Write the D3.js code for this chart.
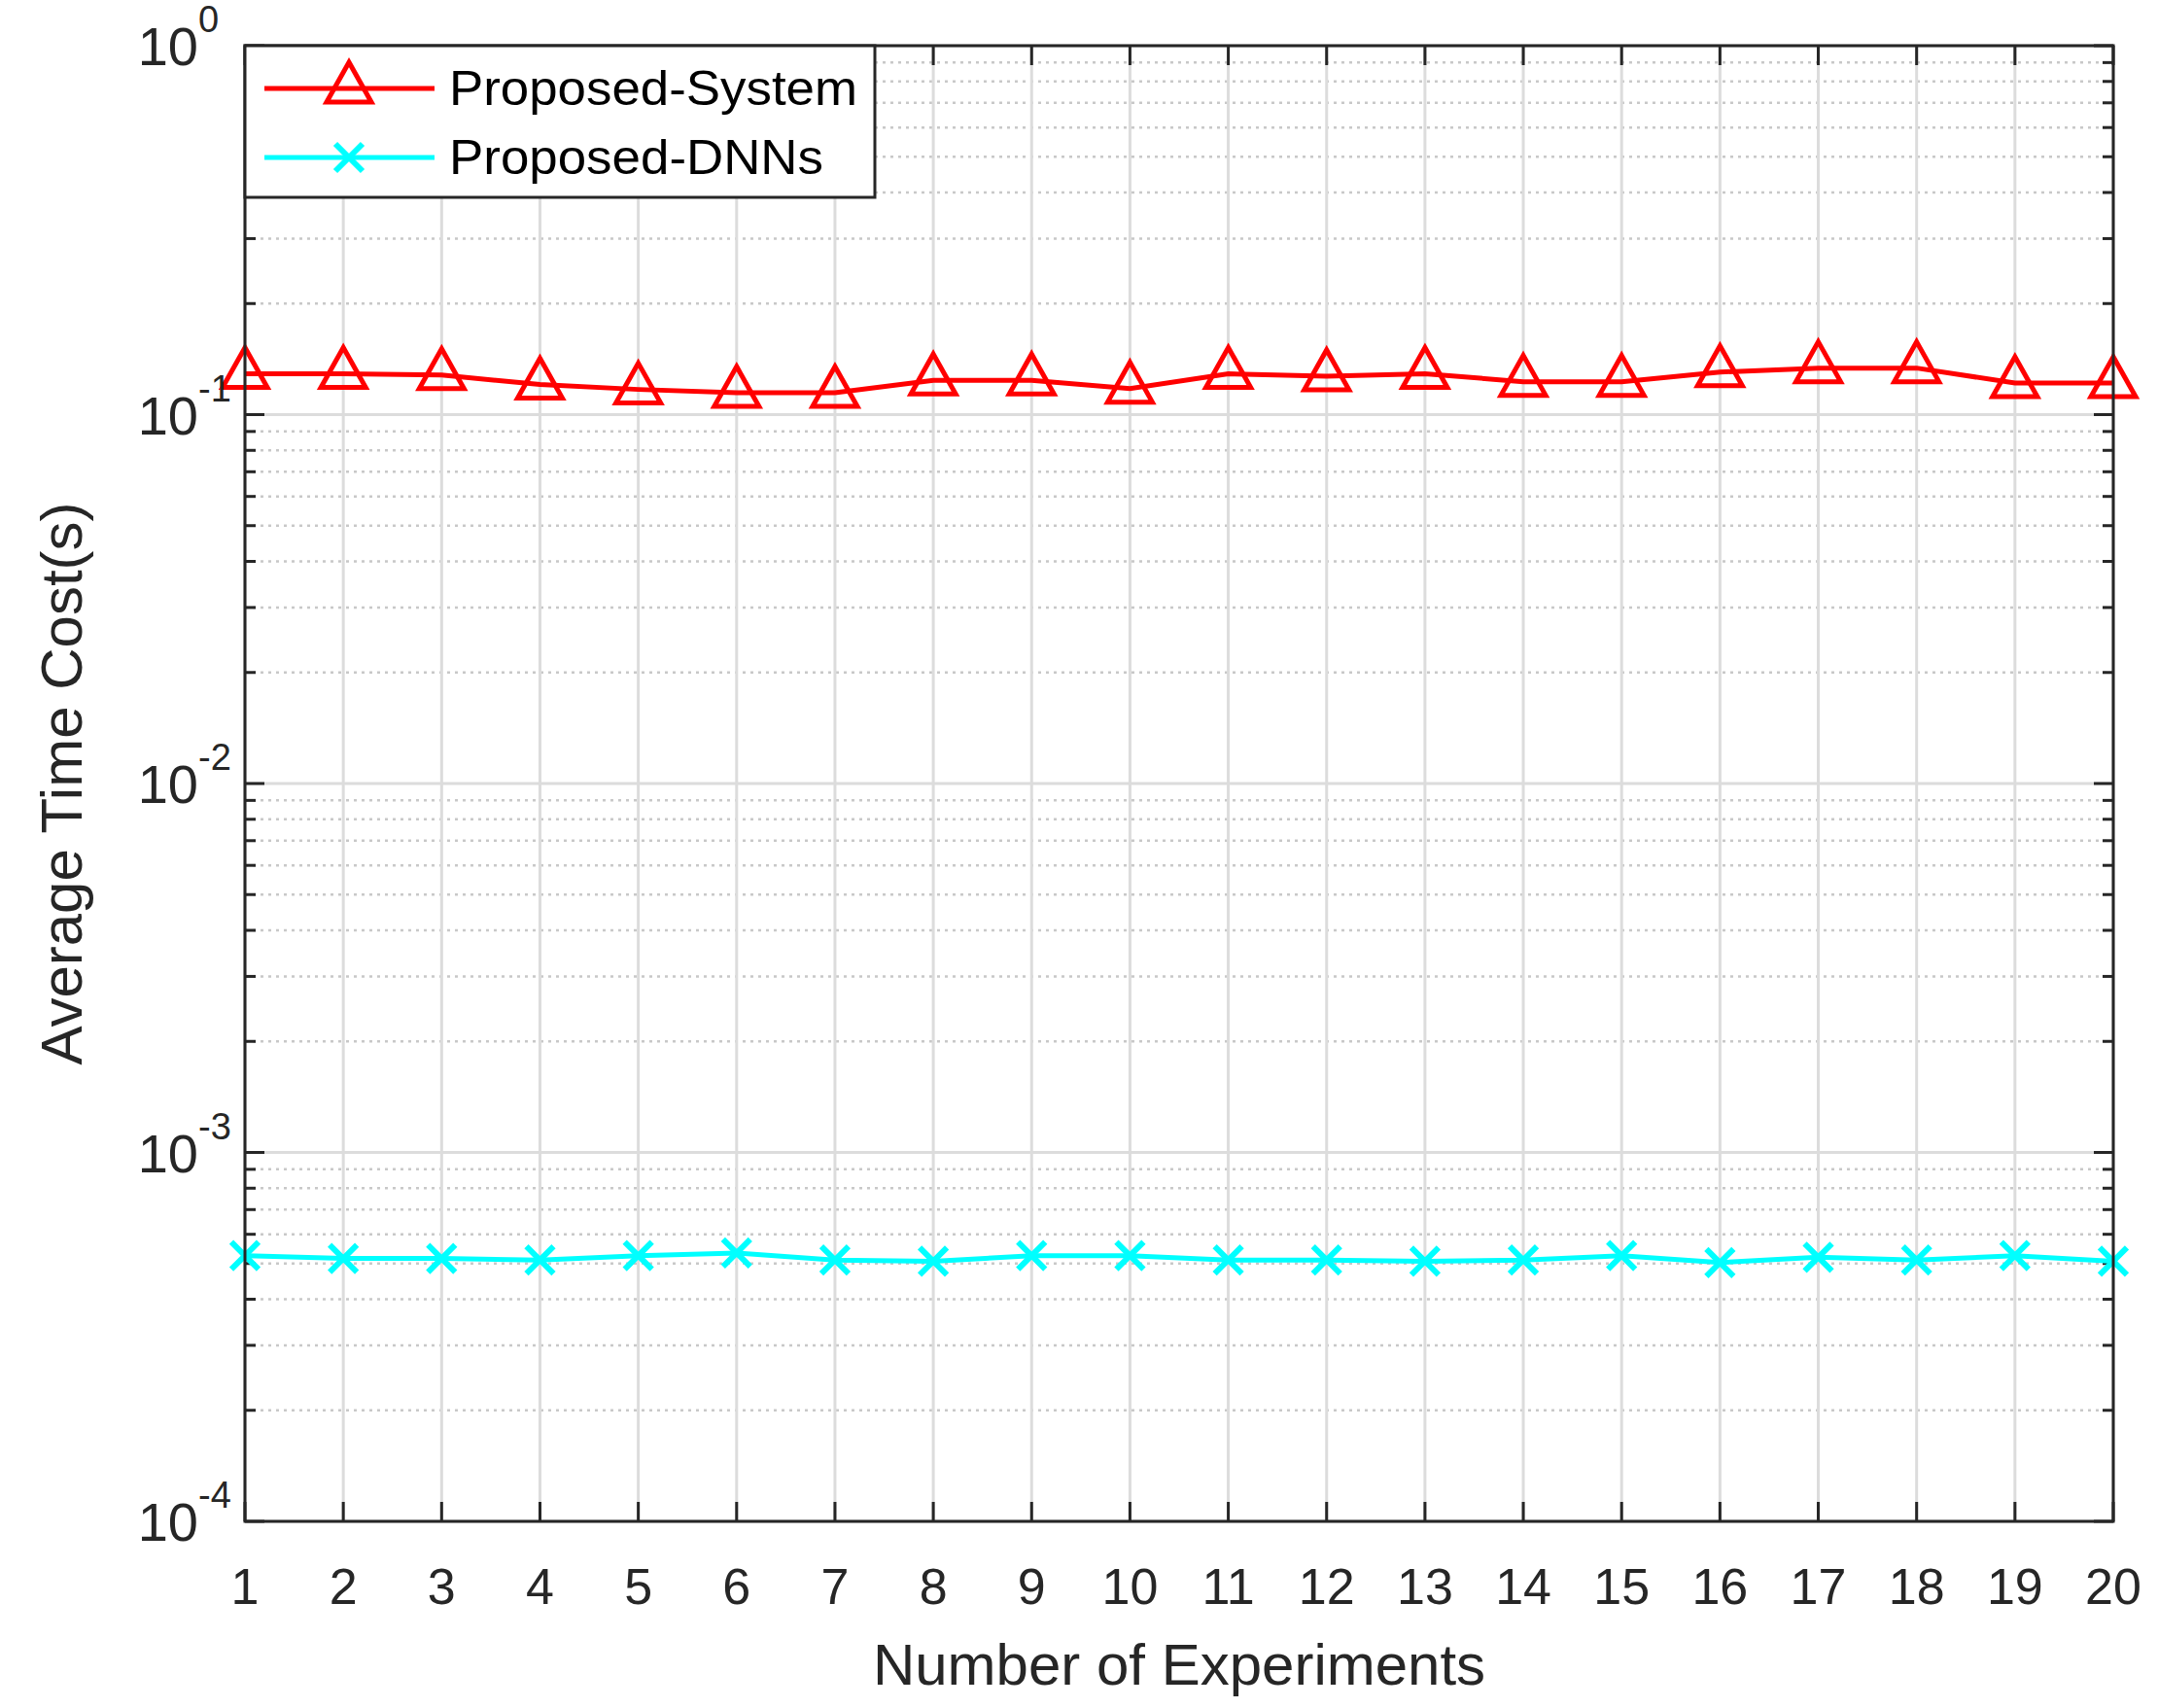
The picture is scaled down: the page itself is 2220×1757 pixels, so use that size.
<!DOCTYPE html>
<html><head><meta charset="utf-8">
<script src="https://cdn.jsdelivr.net/npm/d3@7"></script>
<style>body{margin:0;background:#fff}text{font-family:"Liberation Sans",Arial,sans-serif;fill:#262626}</style>
</head><body>
<script>
var experiments = d3.range(1, 21);
var systemCost = [0.129, 0.129, 0.128, 0.1207, 0.117, 0.1146, 0.1146, 0.1239, 0.1239, 0.1177,
                  0.129, 0.1271, 0.129, 0.1228, 0.1228, 0.1304, 0.1337, 0.1337, 0.1218, 0.1218];
var dnnCost = [5.25e-4, 5.16e-4, 5.16e-4, 5.11e-4, 5.25e-4, 5.34e-4, 5.11e-4, 5.07e-4, 5.25e-4, 5.25e-4,
               5.11e-4, 5.11e-4, 5.07e-4, 5.11e-4, 5.25e-4, 5.03e-4, 5.2e-4, 5.11e-4, 5.25e-4, 5.07e-4];
var yDecades = [-4, -3, -2, -1, 0];

var W = 2220, H = 1757, L = 252, R = 2174, T = 47, B = 1565;
var svg = d3.select("body").append("svg").attr("width", W).attr("height", H);

var x = d3.scaleLinear().domain([1, 20]).range([L, R]);
var y = d3.scaleLog().domain([1e-4, 1]).range([B, T]);

// minor grid
var minors = [];
yDecades.slice(0, 4).forEach(function (e) {
  for (var k = 2; k <= 9; k++) minors.push(k * Math.pow(10, e));
});
svg.selectAll(".ming").data(minors).enter().append("line")
  .attr("x1", L).attr("x2", R).attr("y1", d => y(d)).attr("y2", d => y(d))
  .attr("stroke", "#c8c8c8").attr("stroke-width", 2.5).attr("stroke-dasharray", "3,5");
// major grid
svg.selectAll(".majy").data(yDecades).enter().append("line")
  .attr("x1", L).attr("x2", R).attr("y1", d => y(Math.pow(10, d))).attr("y2", d => y(Math.pow(10, d)))
  .attr("stroke", "#dcdcdc").attr("stroke-width", 3);
svg.selectAll(".majx").data(experiments).enter().append("line")
  .attr("x1", d => x(d)).attr("x2", d => x(d)).attr("y1", T).attr("y2", B)
  .attr("stroke", "#dcdcdc").attr("stroke-width", 3);

// ticks (inside)
var tk = svg.append("g").attr("stroke", "#262626").attr("stroke-width", 3);
experiments.forEach(function (d) {
  tk.append("line").attr("x1", x(d)).attr("x2", x(d)).attr("y1", B).attr("y2", B - 20);
  tk.append("line").attr("x1", x(d)).attr("x2", x(d)).attr("y1", T).attr("y2", T + 20);
});
yDecades.forEach(function (e) {
  var v = y(Math.pow(10, e));
  tk.append("line").attr("x1", L).attr("x2", L + 20).attr("y1", v).attr("y2", v);
  tk.append("line").attr("x1", R).attr("x2", R - 20).attr("y1", v).attr("y2", v);
});
minors.forEach(function (d) {
  tk.append("line").attr("x1", L).attr("x2", L + 11).attr("y1", y(d)).attr("y2", y(d));
  tk.append("line").attr("x1", R).attr("x2", R - 11).attr("y1", y(d)).attr("y2", y(d));
});

// series
var line = d3.line().x((d, i) => x(experiments[i])).y(d => y(d));
svg.append("path").datum(systemCost).attr("d", line).attr("fill", "none")
  .attr("stroke", "#ff0000").attr("stroke-width", 5);
svg.append("path").datum(dnnCost).attr("d", line).attr("fill", "none")
  .attr("stroke", "#00ffff").attr("stroke-width", 5);

var tri = "M0,-27L23,14L-23,14Z";
var cross = "M-14,-14L14,14M-14,14L14,-14";
svg.selectAll(".tri").data(systemCost).enter().append("path")
  .attr("transform", (d, i) => "translate(" + x(experiments[i]) + "," + y(d) + ")")
  .attr("d", tri).attr("fill", "none").attr("stroke", "#ff0000").attr("stroke-width", 5);
svg.selectAll(".crs").data(dnnCost).enter().append("path")
  .attr("transform", (d, i) => "translate(" + x(experiments[i]) + "," + y(d) + ")")
  .attr("d", cross).attr("fill", "none").attr("stroke", "#00ffff").attr("stroke-width", 6);

// box
svg.append("rect").attr("x", L).attr("y", T).attr("width", R - L).attr("height", B - T)
  .attr("fill", "none").attr("stroke", "#262626").attr("stroke-width", 3);

// tick labels
svg.selectAll(".xl").data(experiments).enter().append("text")
  .attr("x", d => x(d)).attr("y", 1650).attr("text-anchor", "middle")
  .attr("font-size", 52).text(d => d);
yDecades.forEach(function (e) {
  svg.append("text").attr("x", L - 48).attr("y", y(Math.pow(10, e)) + 20)
    .attr("text-anchor", "end").attr("font-size", 56).text("10");
  svg.append("text").attr("x", L - 48).attr("y", y(Math.pow(10, e)) - 14)
    .attr("font-size", 38).text(String(e));
});

// axis labels
svg.append("text").attr("x", (L + R) / 2).attr("y", 1733).attr("text-anchor", "middle")
  .attr("font-size", 60).text("Number of Experiments");
svg.append("text").attr("transform", "translate(84," + (T + B) / 2 + ") rotate(-90)")
  .attr("text-anchor", "middle").attr("font-size", 60).text("Average Time Cost(s)");

// legend
var lg = svg.append("g");
lg.append("rect").attr("x", L).attr("y", T).attr("width", 648).attr("height", 156)
  .attr("fill", "#fff").attr("stroke", "#262626").attr("stroke-width", 3);
var items = [{name: "Proposed-System", color: "#ff0000", m: tri, w: 5},
             {name: "Proposed-DNNs", color: "#00ffff", m: cross, w: 6}];
items.forEach(function (it, i) {
  var cy = T + 44 + i * 71;
  lg.append("line").attr("x1", 272).attr("x2", 447).attr("y1", cy).attr("y2", cy)
    .attr("stroke", it.color).attr("stroke-width", 5);
  lg.append("path").attr("transform", "translate(359," + cy + ")").attr("d", it.m)
    .attr("fill", "none").attr("stroke", it.color).attr("stroke-width", it.w);
  lg.append("text").attr("x", 462).attr("y", cy + 17).attr("font-size", 50)
    .attr("textLength", 420).attr("lengthAdjust", "spacingAndGlyphs")
    .style("fill", "#000").text(it.name);
});
d3.select(lg.selectAll("text").nodes()[1]).attr("textLength", 385);
</script>
</body></html>
